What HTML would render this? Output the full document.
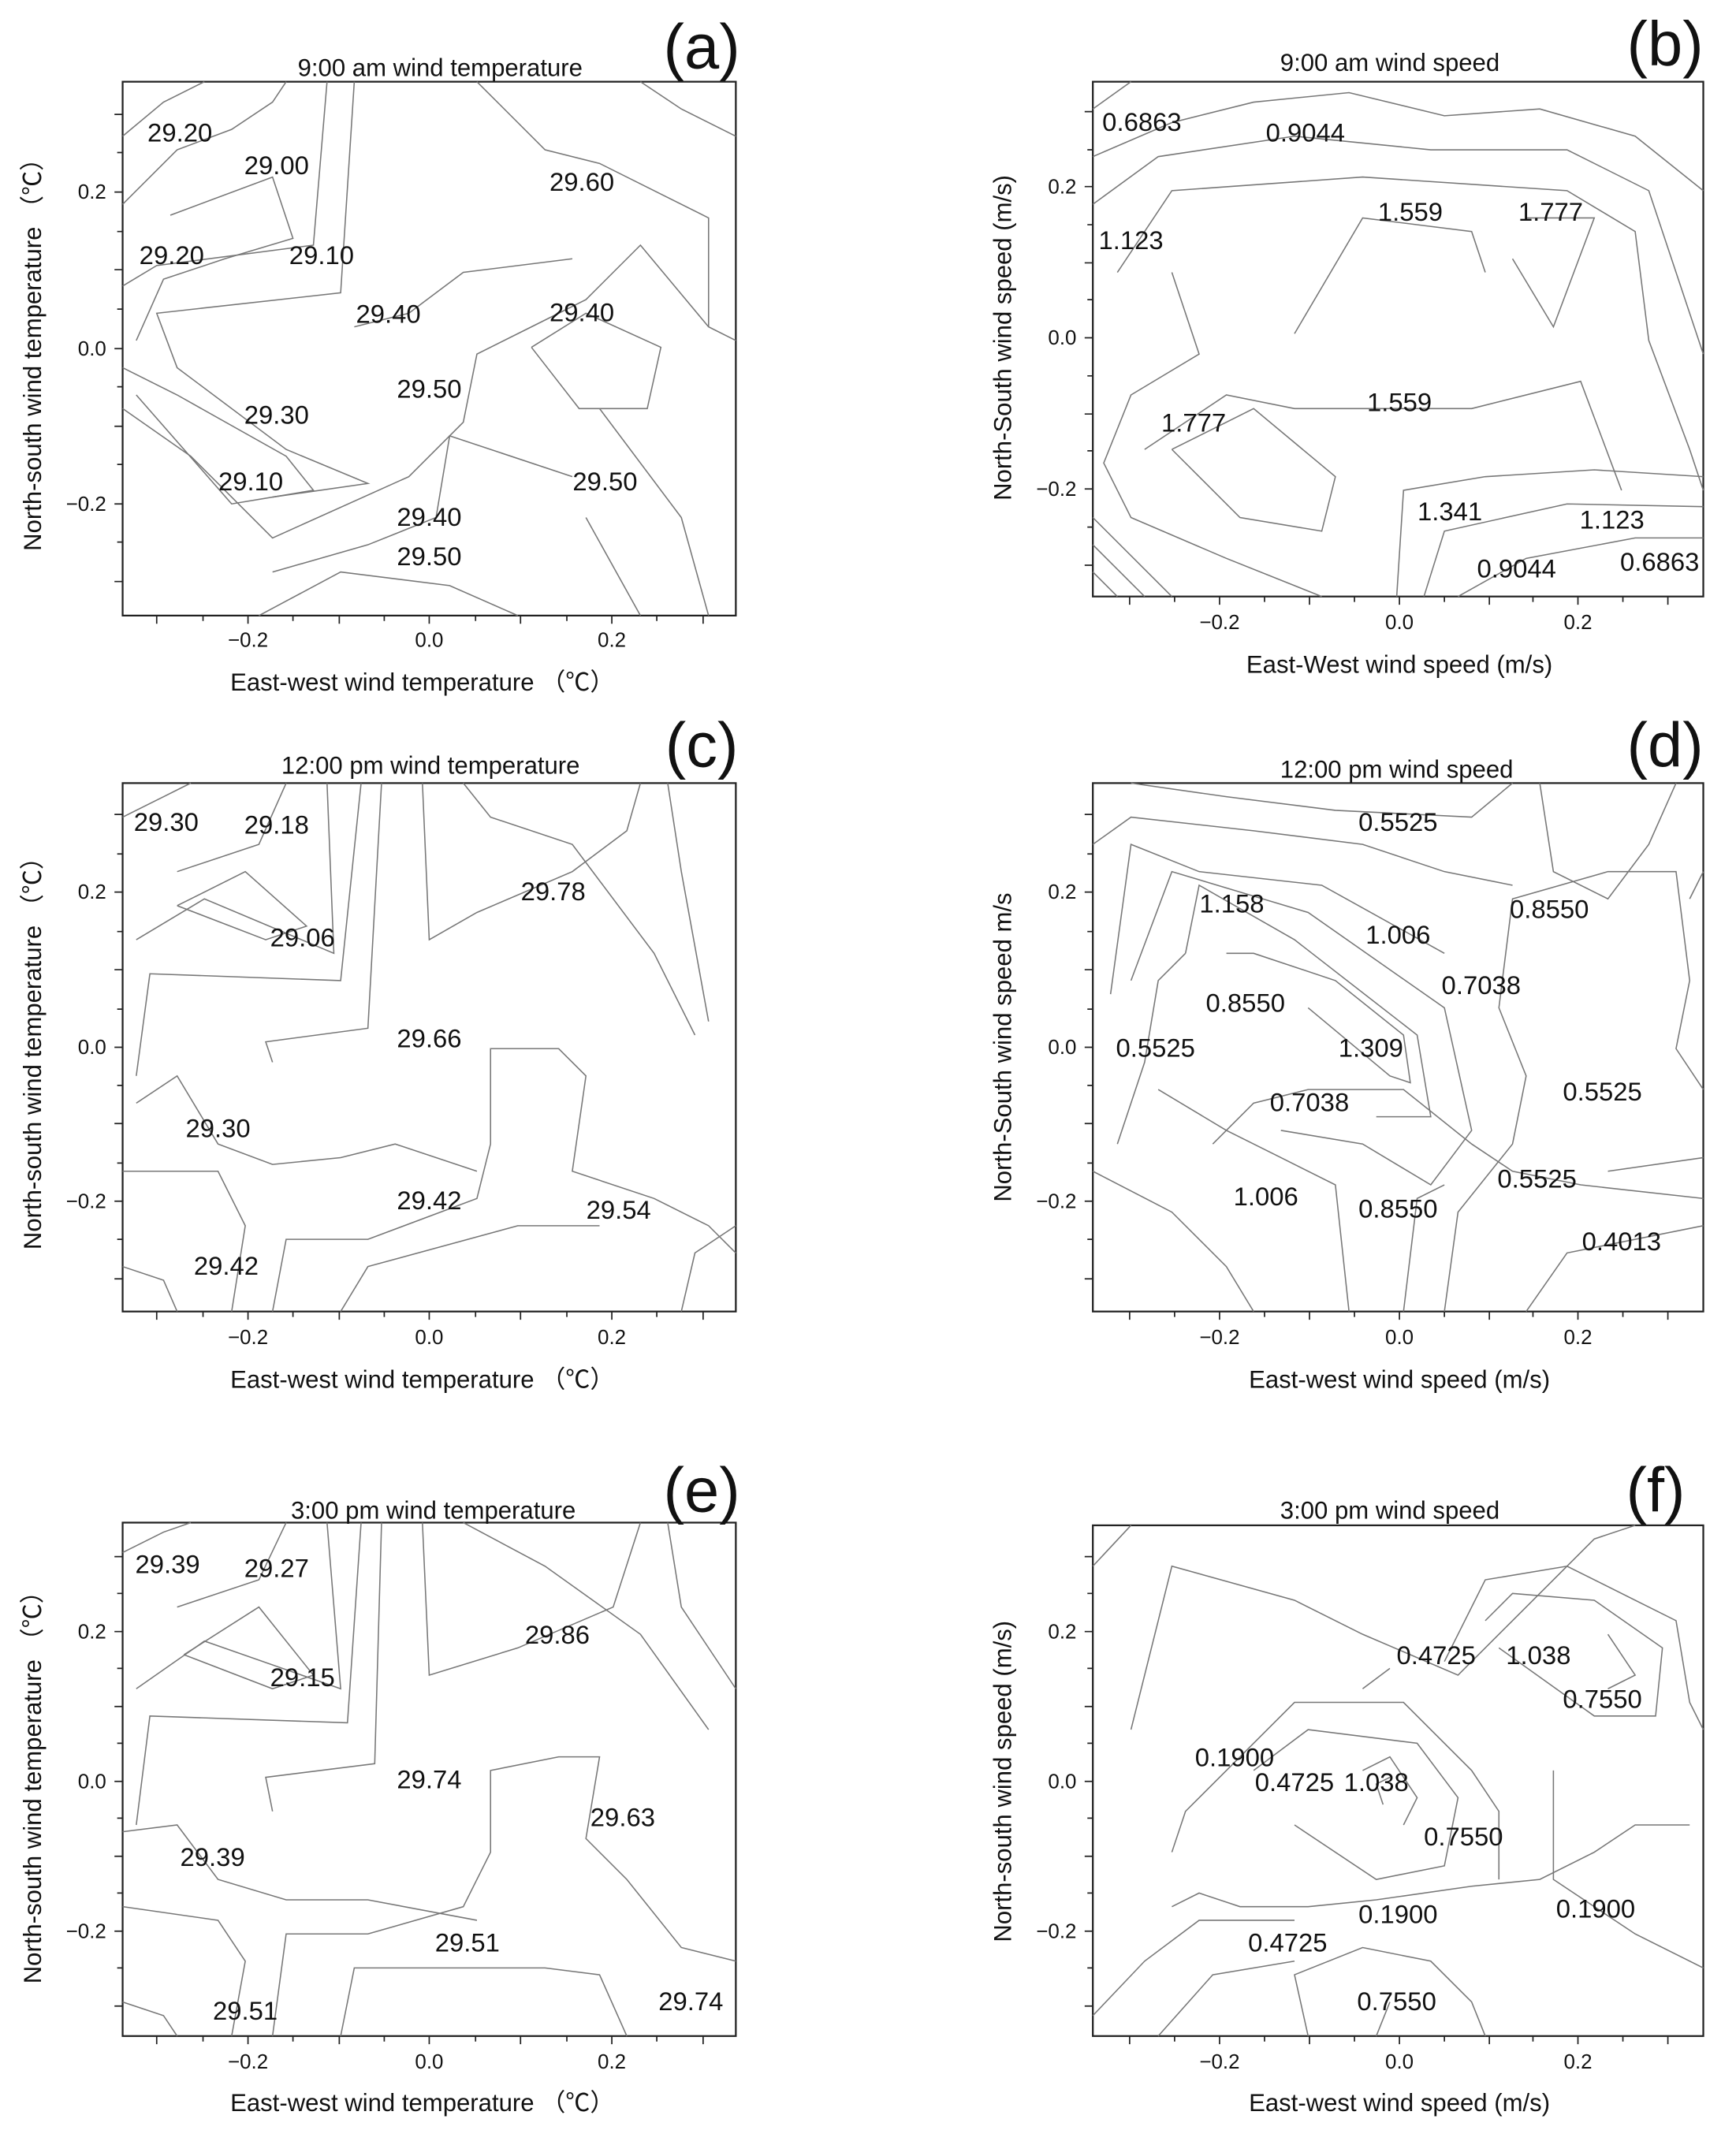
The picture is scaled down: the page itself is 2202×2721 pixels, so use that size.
<!DOCTYPE html>
<html><head><meta charset="utf-8"><style>
html,body{margin:0;padding:0;background:#fff}
svg{display:block}
text{font-family:"Liberation Sans","Noto Sans CJK SC",sans-serif;fill:#111}
.b{fill:none;stroke:#222;stroke-width:1.3}
.c{fill:none;stroke:#777;stroke-width:0.9}
.k{fill:none;stroke:#222;stroke-width:1}
.l{font-size:19px;text-anchor:middle}
.t{font-size:15px;text-anchor:middle}
.ty{font-size:15px;text-anchor:end}
.ax{font-size:18px;text-anchor:middle}
.ti{font-size:18px;text-anchor:middle}
.p{font-size:46px;text-anchor:middle}
</style></head><body>
<svg width="2202" height="2721" viewBox="0 0 1274 1575" preserveAspectRatio="none" xmlns="http://www.w3.org/2000/svg">
<rect width="1274" height="1575" fill="#fff"/>

<!-- ticks -->
<g class="k">
<!-- a -->
<path d="M115,452v6M149,452v4M182,452v6M215,452v4M249,452v6M282,452v4M315,452v6M349,452v4M382,452v6M416,452v4M449,452v6M482,452v4M516,452v6"/>
<path d="M90,84h-6M90,112h-4M90,141h-6M90,170h-4M90,198h-6M90,227h-4M90,256h-6M90,284h-4M90,313h-6M90,341h-4M90,370h-6M90,398h-4M90,427h-6"/>
<!-- b -->
<path d="M829,438v6M862,438v4M895,438v6M928,438v4M961,438v6M994,438v4M1027,438v6M1060,438v4M1093,438v6M1125,438v4M1158,438v6M1191,438v4M1224,438v6"/>
<path d="M802,82h-6M802,110h-4M802,137h-6M802,165h-4M802,193h-6M802,220h-4M802,248h-6M802,276h-4M802,304h-6M802,331h-4M802,359h-6M802,387h-4M802,415h-6"/>
<!-- c -->
<path d="M115,963v6M149,963v4M182,963v6M215,963v4M249,963v6M282,963v4M315,963v6M349,963v4M382,963v6M416,963v4M449,963v6M482,963v4M516,963v6"/>
<path d="M90,598h-6M90,627h-4M90,655h-6M90,684h-4M90,712h-6M90,741h-4M90,769h-6M90,797h-4M90,825h-6M90,854h-4M90,882h-6M90,910h-4M90,939h-6"/>
<!-- d -->
<path d="M829,963v6M862,963v4M895,963v6M928,963v4M961,963v6M994,963v4M1027,963v6M1060,963v4M1093,963v6M1125,963v4M1158,963v6M1191,963v4M1224,963v6"/>
<path d="M802,598h-6M802,627h-4M802,655h-6M802,684h-4M802,712h-6M802,741h-4M802,769h-6M802,797h-4M802,825h-6M802,854h-4M802,882h-6M802,910h-4M802,939h-6"/>
<!-- e -->
<path d="M115,1495v6M149,1495v4M182,1495v6M215,1495v4M249,1495v6M282,1495v4M315,1495v6M349,1495v4M382,1495v6M416,1495v4M449,1495v6M482,1495v4M516,1495v6"/>
<path d="M90,1143h-6M90,1170h-4M90,1198h-6M90,1225h-4M90,1253h-6M90,1280h-4M90,1308h-6M90,1335h-4M90,1363h-6M90,1390h-4M90,1418h-6M90,1445h-4M90,1473h-6"/>
<!-- f -->
<path d="M829,1495v6M862,1495v4M895,1495v6M928,1495v4M961,1495v6M994,1495v4M1027,1495v6M1060,1495v4M1093,1495v6M1125,1495v4M1158,1495v6M1191,1495v4M1224,1495v6"/>
<path d="M802,1143h-6M802,1170h-4M802,1198h-6M802,1225h-4M802,1253h-6M802,1280h-4M802,1308h-6M802,1335h-4M802,1363h-6M802,1390h-4M802,1418h-6M802,1445h-4M802,1473h-6"/>
</g>

<!-- (a) -->
<g>
<rect class="b" x="90" y="60" width="450" height="392"/>
<g class="c">
<polyline points="90,100 120,75 150,60"/>
<polyline points="90,150 130,110 170,95 200,75 210,60"/>
<polyline points="125,158 200,130 215,175 165,190 120,205 100,250"/>
<polyline points="90,210 115,195 230,180 240,60"/>
<polyline points="90,270 130,290 210,335 230,360 170,370 100,290"/>
<polyline points="200,365 270,355 210,330 130,270 115,230 250,215 260,60"/>
<polyline points="90,300 140,335 200,395 300,350 340,310 350,260 390,240 430,220 470,180 520,240 540,250"/>
<polyline points="390,255 430,230 485,255 475,300 425,300 390,255"/>
<polyline points="350,60 400,110 440,120 520,160 520,240"/>
<polyline points="470,60 500,80 540,100"/>
<polyline points="260,240 300,230 340,200 420,190"/>
<polyline points="200,420 270,400 320,380 330,320 420,350"/>
<polyline points="190,452 250,420 330,430 380,452"/>
<polyline points="430,380 470,452"/>
<polyline points="440,300 500,380 520,452"/>
</g>
<text class="l" x="132" y="104">29.20</text>
<text class="l" x="203" y="128">29.00</text>
<text class="l" x="427" y="140">29.60</text>
<text class="l" x="126" y="194">29.20</text>
<text class="l" x="236" y="194">29.10</text>
<text class="l" x="285" y="237">29.40</text>
<text class="l" x="427" y="236">29.40</text>
<text class="l" x="315" y="292">29.50</text>
<text class="l" x="203" y="311">29.30</text>
<text class="l" x="184" y="360">29.10</text>
<text class="l" x="444" y="360">29.50</text>
<text class="l" x="315" y="386">29.40</text>
<text class="l" x="315" y="415">29.50</text>
<g class="t"><text x="182" y="475">−0.2</text><text x="315" y="475">0.0</text><text x="449" y="475">0.2</text></g>
<g class="ty"><text x="78" y="146">0.2</text><text x="78" y="261">0.0</text><text x="78" y="375">−0.2</text></g>
<text class="ax" x="310" y="507">East-west wind temperature （℃）</text>
<text class="ax" transform="translate(30,256) rotate(-90)">North-south wind temperature （℃）</text>
<text class="ti" x="323" y="56">9:00 am wind temperature</text>
<text class="p" x="515" y="50">(a)</text>
</g>

<!-- (b) -->
<g>
<rect class="b" x="802" y="60" width="448" height="378"/>
<g class="c">
<polyline points="802,80 830,60"/>
<polyline points="802,115 860,90 920,75 990,68 1060,85 1130,80 1200,100 1250,140"/>
<polyline points="802,150 850,115 950,100 1050,110 1150,110 1210,140 1230,200 1250,260"/>
<polyline points="820,200 860,140 1000,130 1150,140 1200,170 1210,250 1240,330 1250,360"/>
<polyline points="950,245 1000,160 1080,170 1090,200"/>
<polyline points="1120,160 1170,160 1140,240 1110,190"/>
<polyline points="860,200 880,260 830,290 810,340 830,380 900,410 970,438"/>
<polyline points="840,330 900,290 950,300 1080,300 1160,280 1190,360"/>
<polyline points="860,330 920,300 980,350 970,390 910,380 860,330"/>
<polyline points="1025,438 1030,360 1090,350 1170,345 1250,350"/>
<polyline points="1045,438 1060,390 1150,370 1250,372"/>
<polyline points="1070,438 1120,410 1200,395 1250,395"/>
<polyline points="802,380 860,438"/>
<polyline points="802,400 840,438"/>
<polyline points="802,420 820,438"/>
</g>
<text class="l" x="838" y="96">0.6863</text>
<text class="l" x="958" y="104">0.9044</text>
<text class="l" x="1035" y="162">1.559</text>
<text class="l" x="1138" y="162">1.777</text>
<text class="l" x="830" y="183">1.123</text>
<text class="l" x="1027" y="302">1.559</text>
<text class="l" x="876" y="317">1.777</text>
<text class="l" x="1064" y="382">1.341</text>
<text class="l" x="1183" y="388">1.123</text>
<text class="l" x="1113" y="424">0.9044</text>
<text class="l" x="1218" y="419">0.6863</text>
<g class="t"><text x="895" y="462">−0.2</text><text x="1027" y="462">0.0</text><text x="1158" y="462">0.2</text></g>
<g class="ty"><text x="790" y="142">0.2</text><text x="790" y="253">0.0</text><text x="790" y="364">−0.2</text></g>
<text class="ax" x="1027" y="494">East-West wind speed (m/s)</text>
<text class="ax" transform="translate(742,248) rotate(-90)">North-South wind speed (m/s)</text>
<text class="ti" x="1020" y="52">9:00 am wind speed</text>
<text class="p" x="1222" y="48">(b)</text>
</g>

<!-- (c) -->
<g>
<rect class="b" x="90" y="575" width="450" height="388"/>
<g class="c">
<polyline points="90,600 120,585 140,575"/>
<polyline points="130,640 190,620 210,575"/>
<polyline points="130,665 180,640 225,680 195,690 130,665"/>
<polyline points="100,690 150,660 245,700 240,575"/>
<polyline points="100,790 110,715 250,720 265,575"/>
<polyline points="100,810 130,790 160,840 200,855 250,850 290,840 350,860"/>
<polyline points="200,780 195,765 270,755 280,575"/>
<polyline points="310,575 315,690 350,670 420,640 460,610 470,575"/>
<polyline points="490,575 500,640 520,750"/>
<polyline points="340,575 360,600 420,620 480,700 510,760"/>
<polyline points="90,860 160,860 180,900 170,963"/>
<polyline points="200,963 210,910 270,910 350,880 360,840 360,770 410,770 430,790 420,860 480,880 520,900 540,920"/>
<polyline points="250,963 270,930 380,900 440,900"/>
<polyline points="500,963 510,920 540,900"/>
<polyline points="90,930 120,940 130,963"/>
</g>
<text class="l" x="122" y="610">29.30</text>
<text class="l" x="203" y="612">29.18</text>
<text class="l" x="406" y="661">29.78</text>
<text class="l" x="222" y="695">29.06</text>
<text class="l" x="315" y="769">29.66</text>
<text class="l" x="160" y="835">29.30</text>
<text class="l" x="315" y="888">29.42</text>
<text class="l" x="454" y="895">29.54</text>
<text class="l" x="166" y="936">29.42</text>
<g class="t"><text x="182" y="987">−0.2</text><text x="315" y="987">0.0</text><text x="449" y="987">0.2</text></g>
<g class="ty"><text x="78" y="660">0.2</text><text x="78" y="774">0.0</text><text x="78" y="887">−0.2</text></g>
<text class="ax" x="310" y="1019">East-west wind temperature （℃）</text>
<text class="ax" transform="translate(30,769) rotate(-90)">North-south wind temperature （℃）</text>
<text class="ti" x="316" y="568">12:00 pm wind temperature</text>
<text class="p" x="515" y="563">(c)</text>
</g>

<!-- (d) -->
<g>
<rect class="b" x="802" y="575" width="448" height="388"/>
<g class="c">
<polyline points="830,575 900,585 980,595 1080,600 1110,575"/>
<polyline points="1130,575 1140,640 1180,660 1210,620 1230,575"/>
<polyline points="802,620 830,600 920,610 1000,620 1060,640 1110,650"/>
<polyline points="815,730 830,620 880,640 970,650 1060,700"/>
<polyline points="830,720 860,640 960,670 1060,740 1080,830 1050,870 1000,840 940,830"/>
<polyline points="870,700 880,650 950,690 1040,760 1050,820 1010,820"/>
<polyline points="900,700 920,700 980,720 1030,760 1035,795 1020,790 960,740"/>
<polyline points="820,840 840,780 850,720 870,700"/>
<polyline points="802,860 860,890 900,930 920,963"/>
<polyline points="850,800 900,830 940,850 980,870 990,963"/>
<polyline points="890,840 920,810 960,800 1030,800 1080,840 1110,860 1160,870 1250,880"/>
<polyline points="1030,963 1040,880 1060,870"/>
<polyline points="1060,963 1070,890 1110,840 1120,790 1100,740 1110,660 1180,640 1230,640 1240,720 1230,770 1250,800"/>
<polyline points="1120,963 1150,920 1250,900"/>
<polyline points="1180,860 1250,850"/>
<polyline points="1240,660 1250,640"/>
</g>
<text class="l" x="1026" y="610">0.5525</text>
<text class="l" x="904" y="670">1.158</text>
<text class="l" x="1137" y="674">0.8550</text>
<text class="l" x="1026" y="693">1.006</text>
<text class="l" x="1087" y="730">0.7038</text>
<text class="l" x="914" y="743">0.8550</text>
<text class="l" x="848" y="776">0.5525</text>
<text class="l" x="1006" y="776">1.309</text>
<text class="l" x="1176" y="808">0.5525</text>
<text class="l" x="961" y="816">0.7038</text>
<text class="l" x="1128" y="872">0.5525</text>
<text class="l" x="929" y="885">1.006</text>
<text class="l" x="1026" y="894">0.8550</text>
<text class="l" x="1190" y="918">0.4013</text>
<g class="t"><text x="895" y="987">−0.2</text><text x="1027" y="987">0.0</text><text x="1158" y="987">0.2</text></g>
<g class="ty"><text x="790" y="660">0.2</text><text x="790" y="774">0.0</text><text x="790" y="887">−0.2</text></g>
<text class="ax" x="1027" y="1019">East-west wind speed (m/s)</text>
<text class="ax" transform="translate(742,769) rotate(-90)">North-South wind speed m/s</text>
<text class="ti" x="1025" y="571">12:00 pm wind speed</text>
<text class="p" x="1222" y="563">(d)</text>
</g>

<!-- (e) -->
<g>
<rect class="b" x="90" y="1118" width="450" height="377"/>
<g class="c">
<polyline points="90,1140 120,1125 140,1118"/>
<polyline points="130,1180 190,1160 210,1118"/>
<polyline points="135,1215 190,1180 230,1230 200,1240 135,1215"/>
<polyline points="100,1240 150,1205 250,1240 240,1118"/>
<polyline points="100,1340 110,1260 255,1265 265,1118"/>
<polyline points="90,1345 130,1340 160,1380 210,1395 270,1395 350,1410"/>
<polyline points="200,1330 195,1305 275,1295 280,1118"/>
<polyline points="310,1118 315,1230 380,1210 450,1180 470,1118"/>
<polyline points="340,1118 400,1150 470,1200 520,1270"/>
<polyline points="490,1118 500,1180 540,1240"/>
<polyline points="90,1400 160,1410 180,1440 170,1495"/>
<polyline points="200,1495 210,1420 270,1420 340,1400 360,1360 360,1300 410,1290 440,1290 430,1350 460,1380 500,1430 540,1440"/>
<polyline points="250,1495 260,1445 330,1445 400,1445 440,1450 460,1495"/>
<polyline points="90,1470 120,1480 130,1495"/>
</g>
<text class="l" x="123" y="1155">29.39</text>
<text class="l" x="203" y="1158">29.27</text>
<text class="l" x="409" y="1207">29.86</text>
<text class="l" x="222" y="1238">29.15</text>
<text class="l" x="315" y="1313">29.74</text>
<text class="l" x="457" y="1341">29.63</text>
<text class="l" x="156" y="1370">29.39</text>
<text class="l" x="343" y="1433">29.51</text>
<text class="l" x="180" y="1483">29.51</text>
<text class="l" x="507" y="1476">29.74</text>
<g class="t"><text x="182" y="1519">−0.2</text><text x="315" y="1519">0.0</text><text x="449" y="1519">0.2</text></g>
<g class="ty"><text x="78" y="1203">0.2</text><text x="78" y="1313">0.0</text><text x="78" y="1423">−0.2</text></g>
<text class="ax" x="310" y="1550">East-west wind temperature （℃）</text>
<text class="ax" transform="translate(30,1308) rotate(-90)">North-south wind temperature （℃）</text>
<text class="ti" x="318" y="1115">3:00 pm wind temperature</text>
<text class="p" x="515" y="1110">(e)</text>
</g>

<!-- (f) -->
<g>
<rect class="b" x="802" y="1120" width="448" height="375"/>
<g class="c">
<polyline points="802,1150 830,1120"/>
<polyline points="830,1270 860,1150 950,1175 1000,1200 1070,1230 1130,1170 1170,1130 1200,1120"/>
<polyline points="1060,1220 1090,1160 1150,1150 1230,1190 1240,1250 1250,1270"/>
<polyline points="1090,1190 1110,1170 1170,1175 1220,1210 1215,1260 1170,1260 1100,1210"/>
<polyline points="1180,1200 1200,1230 1180,1240"/>
<polyline points="860,1360 870,1330 900,1300 950,1250 1030,1250 1080,1300 1100,1330 1100,1380"/>
<polyline points="920,1300 960,1270 1040,1280 1070,1320 1060,1370 1010,1380 950,1340"/>
<polyline points="1000,1300 1020,1290 1040,1320 1030,1340"/>
<polyline points="1015,1325 1010,1310 1020,1305"/>
<polyline points="860,1400 880,1390 910,1400 960,1400 1010,1395 1080,1385 1130,1380 1170,1360 1200,1340 1240,1340"/>
<polyline points="802,1480 840,1440 880,1410 950,1410"/>
<polyline points="850,1495 890,1450 950,1440"/>
<polyline points="960,1495 950,1450 1000,1430 1050,1440 1080,1470 1090,1495"/>
<polyline points="1010,1495 1020,1470"/>
<polyline points="1140,1300 1140,1380 1200,1420 1250,1445"/>
<polyline points="1000,1240 1020,1225"/>
</g>
<text class="l" x="1054" y="1222">0.4725</text>
<text class="l" x="1129" y="1222">1.038</text>
<text class="l" x="1176" y="1254">0.7550</text>
<text class="l" x="906" y="1297">0.1900</text>
<text class="l" x="950" y="1315">0.4725</text>
<text class="l" x="1010" y="1315">1.038</text>
<text class="l" x="1074" y="1355">0.7550</text>
<text class="l" x="1171" y="1408">0.1900</text>
<text class="l" x="1026" y="1412">0.1900</text>
<text class="l" x="945" y="1433">0.4725</text>
<text class="l" x="1025" y="1476">0.7550</text>
<g class="t"><text x="895" y="1519">−0.2</text><text x="1027" y="1519">0.0</text><text x="1158" y="1519">0.2</text></g>
<g class="ty"><text x="790" y="1203">0.2</text><text x="790" y="1313">0.0</text><text x="790" y="1423">−0.2</text></g>
<text class="ax" x="1027" y="1550">East-west wind speed (m/s)</text>
<text class="ax" transform="translate(742,1308) rotate(-90)">North-south wind speed (m/s)</text>
<text class="ti" x="1020" y="1115">3:00 pm wind speed</text>
<text class="p" x="1215" y="1110">(f)</text>
</g>
</svg>
</body></html>
